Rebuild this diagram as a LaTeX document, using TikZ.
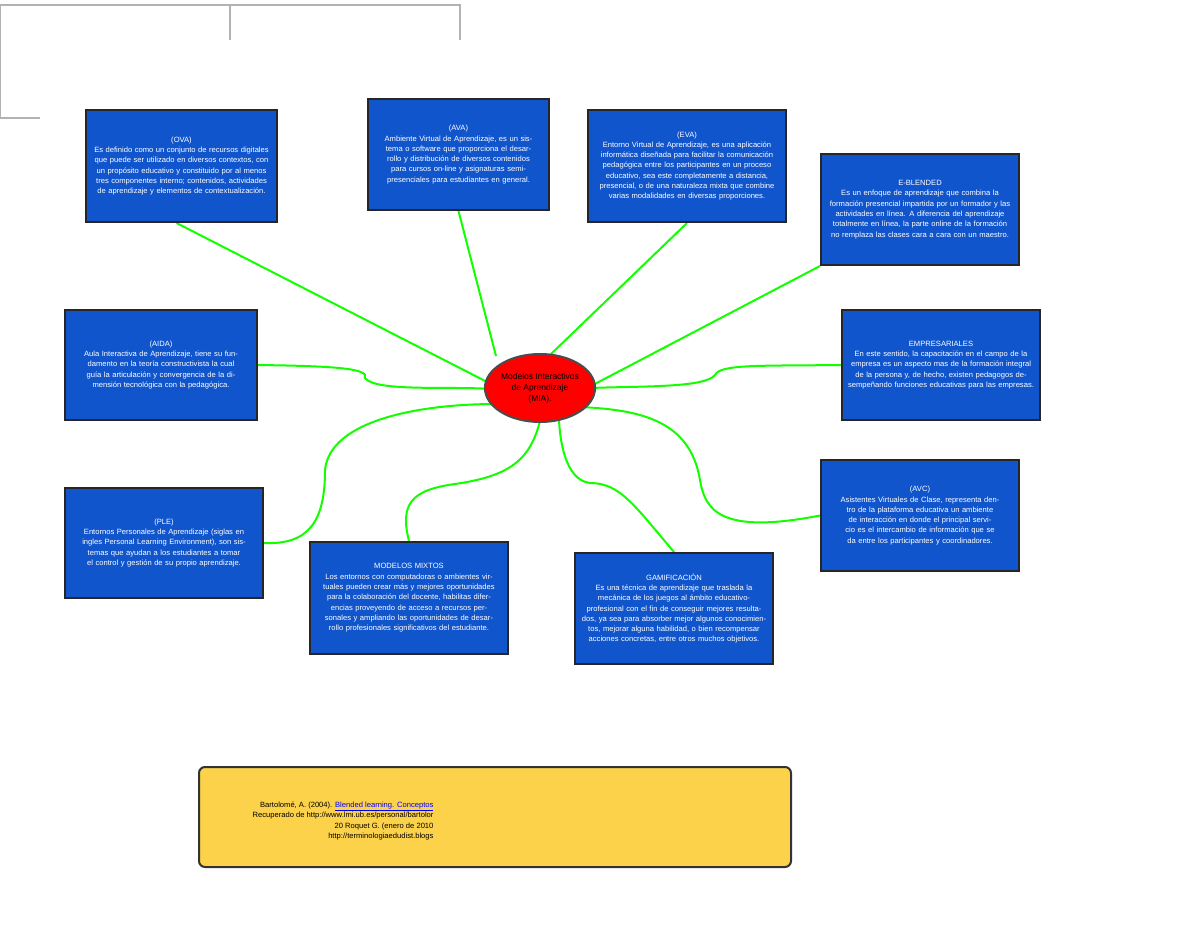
\documentclass[tikz,border=0pt]{standalone}
\usepackage{fontspec}
\setmainfont{Liberation Sans}
\usetikzlibrary{shapes.geometric,backgrounds}
\begin{document}
\begin{tikzpicture}[x=1pt,y=-1pt,
  bx/.style={draw=black!85,line width=2pt,fill=blue!65!cyan!70!black,text=white,font=\fontsize{7.6}{10.3}\selectfont,align=center,inner sep=3pt},
  ln/.style={draw=green!90!lime,line width=2pt}]
\useasboundingbox (0,0) rectangle (1200,927);
\draw[gray!60,line width=1.5pt] (0,118)--(0,5)--(460,5)--(460,40) (230,5)--(230,40) (0,118)--(40,118);
\definecolor{bb}{HTML}{1155CC}
\tikzset{bx/.append style={fill=bb}}
\newcommand{\bxn}[6]{\node[bx,minimum width=#3-#2,minimum height=#5-#4,text width=#3-#2-12pt] (#1) at ({(#2+#3)/2},{(#4+#5)/2}) {#6};}
\bxn{ova}{86}{277}{110}{222}{(OVA)\\Es definido como un conjunto de recursos digitales que puede ser utilizado en diversos contextos, con un propósito educativo y constituido por al menos tres componentes interno; contenidos, actividades de aprendizaje y elementos de contextualización.\\[14pt]}
\bxn{ava}{368}{549}{99}{210}{(AVA)\\Ambiente Virtual de Aprendizaje, es un sistema o software que proporciona el desarrollo y distribución de diversos contenidos para cursos on-line y asignaturas semi-presenciales para estudiantes en general.\\[20pt]}
\bxn{eva}{588}{786}{110}{222}{(EVA)\\Entorno Virtual de Aprendizaje, es una aplicación informática diseñada para facilitar la comunicación pedagógica entre los participantes en un proceso educativo, sea este completamente a distancia, presencial, o de una naturaleza mixta que combine varias modalidades en diversas proporciones.\\[14pt]}
\bxn{ebl}{821}{1019}{154}{265}{E-BLENDED\\Es un enfoque de aprendizaje que combina la formación presencial impartida por un formador y las actividades en línea. A diferencia del aprendizaje totalmente en línea, la parte online de la formación no remplaza las clases cara a cara con un maestro.\\[24pt]}
\bxn{aida}{65}{257}{310}{420}{(AIDA)\\Aula Interactiva de Aprendizaje, tiene su fundamento en la teoría constructivista la cual guía la articulación y convergencia de la dimensión tecnológica con la pedagógica.}
\bxn{emp}{842}{1040}{310}{420}{EMPRESARIALES\\En este sentido, la capacitación en el campo de la empresa es un aspecto mas de la formación integral de la persona y, de hecho, existen pedagogos desempeñando funciones educativas para las empresas.}
\bxn{ple}{65}{263}{488}{598}{(PLE)\\Entornos Personales de Aprendizaje (siglas en ingles Personal Learning Environment), son sistemas que ayudan a los estudiantes a tomar el control y gestión de su propio aprendizaje.}
\bxn{mix}{310}{508}{542}{654}{MODELOS MIXTOS\\Los entornos con computadoras o ambientes virtuales pueden crear más y mejores oportunidades para la colaboración del docente, habilitas diferencias proveyendo de acceso a recursos personales y ampliando las oportunidades de desarrollo profesionales significativos del estudiante.}
\bxn{gam}{575}{773}{553}{664}{GAMIFICACIÓN\\Es una técnica de aprendizaje que traslada la mecánica de los juegos al ámbito educativo-profesional con el fin de conseguir mejores resultados, ya sea para absorber mejor algunos conocimientos, mejorar alguna habilidad, o bien recompensar acciones concretas, entre otros muchos objetivos.}
\bxn{avc}{821}{1019}{460}{571}{(AVC)\\Asistentes Virtuales de Clase, representa dentro de la plataforma educativa un ambiente de interacción en donde el principal servicio es el intercambio de información que se da entre los participantes y coordinadores.\\[10pt]}
\node[ellipse,draw=black!70,line width=2pt,fill=red,minimum width=104,minimum height=68,inner sep=0pt,align=center,font=\fontsize{8.5}{11}\selectfont] (mia) at (540,388) {Modelos Interactivos\\de Aprendizaje\\(MIA).};
\coordinate (c1) at (493,385); \coordinate (c2) at (496,356); \coordinate (c3) at (550,355);
\coordinate (c4) at (591,386); \coordinate (c5) at (491,389); \coordinate (c6) at (591,388);
\coordinate (c7) at (496,404); \coordinate (c8) at (540,421); \coordinate (c9) at (559,420); \coordinate (c10) at (581,407);
\begin{scope}[on background layer]
\draw[ln] ([xshift=-5pt]ova.south) -- (c1);
\draw[ln] (ava.south) -- (c2);
\draw[ln] (eva.south) -- (c3);
\draw[ln] (ebl.south west) -- (c4);
\draw[ln] (aida.east) .. controls (330,366) and (370,368) .. (365,378) .. controls (375,392) and (450,386) .. (c5);
\draw[ln] (emp.west) .. controls (760,366) and (720,364) .. (715,375) .. controls (705,388) and (640,386) .. (c6);
\draw[ln] (ple.east) .. controls (310,545) and (325,520) .. (325,470) .. controls (330,420) and (420,404) .. (c7);
\draw[ln] (mix.north) .. controls (400,505) and (410,490) .. (455,484) .. controls (510,476) and (530,460) .. (c8);
\draw[ln] (gam.north) .. controls (634,505) and (620,483) .. (590,483) .. controls (565,480) and (560,440) .. (c9);
\draw[ln] (avc.west) .. controls (720,535) and (705,510) .. (700,480) .. controls (690,420) and (640,410) .. (c10);
\end{scope}
\node[draw=black!80,line width=2pt,rounded corners=6pt,fill=yellow!55!orange!70,minimum width=592,minimum height=100] (ref) at (495,817) {};
\node[align=right,anchor=north east,font=\fontsize{7.6}{10.5}\selectfont] (rt) at (437,798) {Bartolomé, A. (2004). \textcolor{blue}{\underline{Blended learning. Conceptos}}\\Recuperado de http://www.lmi.ub.es/personal/bartolor\\20 Roquet G. (enero de 2010\\http://terminologiaedudist.blogs};
\end{tikzpicture}
\end{document}
